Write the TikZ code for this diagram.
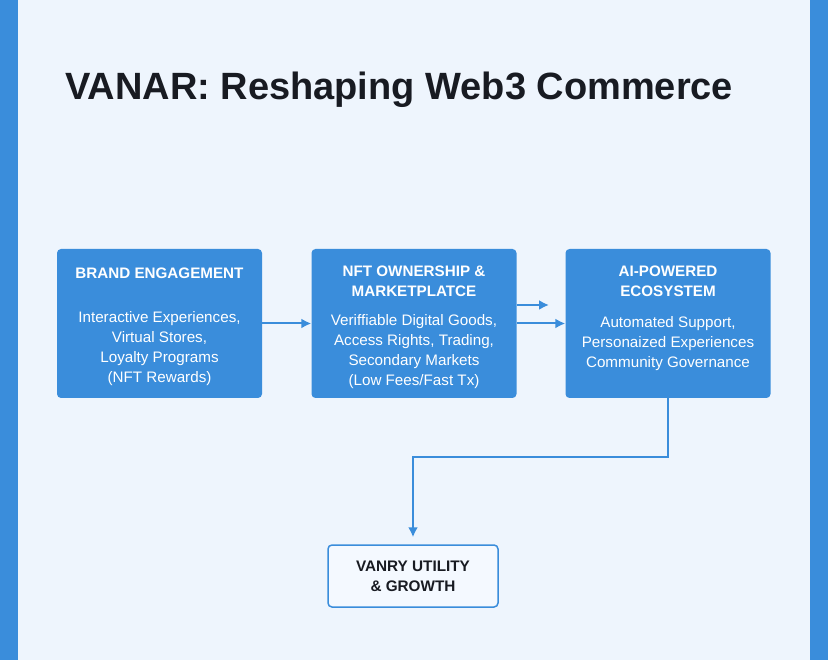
\documentclass[tikz,border=0pt]{standalone}
\usepackage{fontspec}
\setmainfont{Liberation Sans}
\usetikzlibrary{arrows.meta}

\definecolor{vanarblue}{HTML}{3A8DDB}
\definecolor{pagebg}{HTML}{EEF5FD}
\definecolor{boxlight}{HTML}{F4F9FF}
\definecolor{inkdark}{HTML}{181B22}

\begin{document}
\begin{tikzpicture}[x=1pt,y=-1pt]
	\tikzset{stagebox/.style={fill=vanarblue, rounded corners=4pt, minimum width=205pt, minimum height=149pt, inner sep=0pt},
		stagetext/.style={text=white, align=center, inner sep=0pt, font=\fontsize{15.2}{20}\selectfont},
		goalbox/.style={fill=boxlight, draw=vanarblue, line width=1.5pt, rounded corners=4pt, minimum width=170pt, minimum height=62pt, align=center, text=inkdark, font=\fontsize{15.3}{20}\selectfont\bfseries},
		flow/.style={draw=vanarblue, line width=2pt, -{Latex[length=10pt,width=10pt]}}}

	% page and side bars
	\fill[pagebg] (0,0) rectangle (828,660);
	\fill[vanarblue] (0,0) rectangle (18,660);
	\fill[vanarblue] (810,0) rectangle (828,660);
	\useasboundingbox (0,0) rectangle (828,660);

	\node [anchor=base west, text=inkdark, inner sep=0pt, font=\fontsize{38}{44}\selectfont\bfseries] (title) at (65,100) {VANAR: Reshaping Web3 Commerce};

	% stages
	\node [stagebox] (brand) at (159.5,323.5) {};
	\node [stagebox] (nft)   at (414,323.5)   {};
	\node [stagebox] (ai)    at (668,323.5)   {};

	\node [stagetext, anchor=north] (brandtext) at ([yshift=-19pt]brand.north) {\textbf{BRAND ENGAGEMENT}\\[24pt]Interactive Experiences,\\Virtual Stores,\\Loyalty Programs\\(NFT Rewards)};
	\node [stagetext, anchor=north] (nfttext) at ([yshift=-16.5pt]nft.north) {\textbf{NFT OWNERSHIP \&}\\\textbf{MARKETPLATCE}\\[9pt]Veriffiable Digital Goods,\\Access Rights, Trading,\\Secondary Markets\\(Low Fees/Fast Tx)};
	\node [stagetext, anchor=north] (aitext) at ([yshift=-16.5pt]ai.north) {\textbf{AI-POWERED}\\\textbf{ECOSYSTEM}\\[11pt]Automated Support,\\Personaized Experiences\\Community Governance};

	\node [goalbox] (vanry) at (413,576) {VANRY UTILITY\\\& GROWTH};

	% connectors
	\coordinate (stub) at (549,305);
	\draw [flow] (brand) -- (nft);
	\draw [flow] (nft.east |- stub) -- (stub);
	\draw [flow] (nft) -- (ai);
	\draw [flow, shorten >=7pt] (ai.south) -- ++(0,59) -| (vanry.north);
\end{tikzpicture}
\end{document}
